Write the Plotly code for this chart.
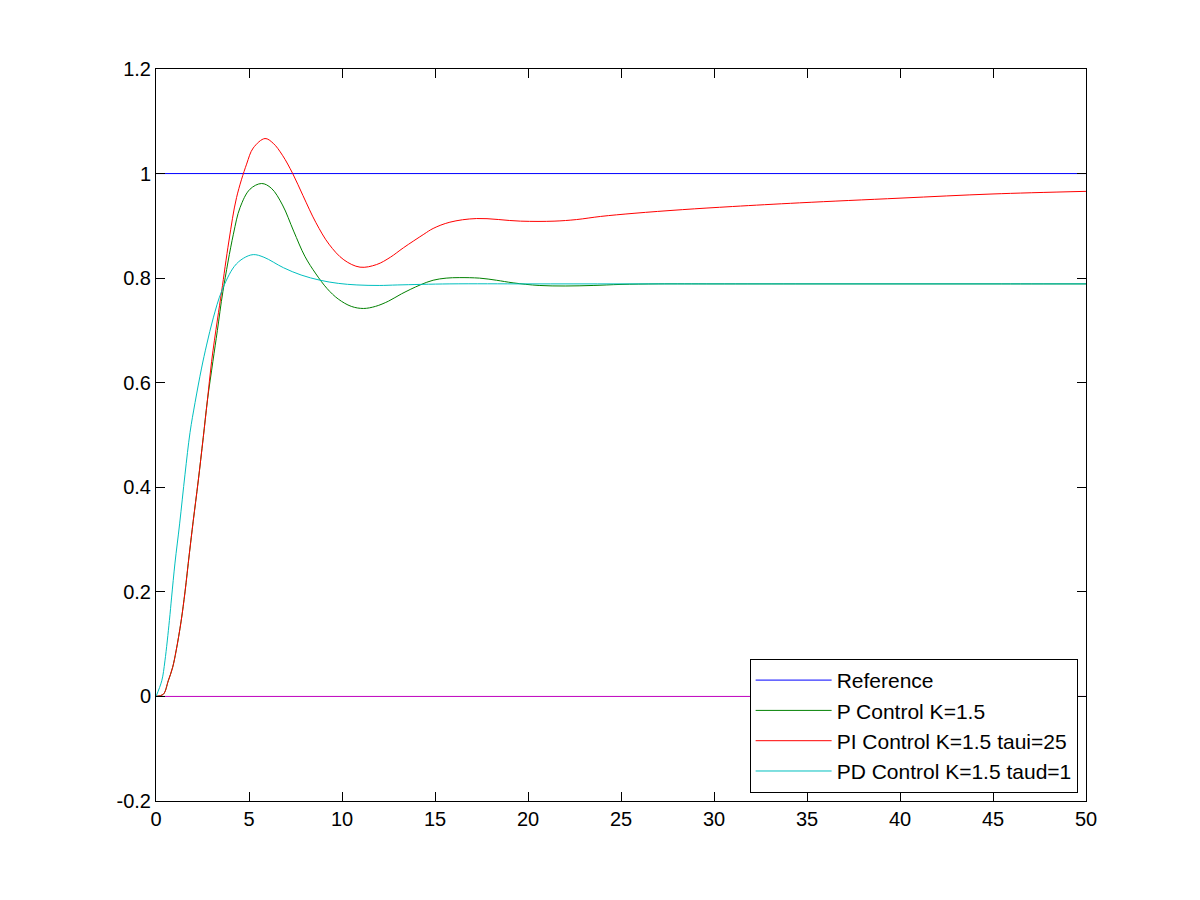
import plotly.graph_objects as go

# time axis / responses
t_ref = [0, 50]
y_ref = [1, 1]

t_zero = [0, 50]
y_zero = [0, 0]

t_p = [0, 0.39, 0.66, 0.89, 1.08, 1.35, 1.56, 1.79, 2.0, 2.27, 2.54, 2.76, 3.06, 3.3, 3.6,
       4.16, 4.52, 5.05, 5.68, 6.2, 6.8, 7.4, 8.0, 8.6, 9.2, 9.8, 10.5, 11.15, 11.8, 12.5,
       13.2, 14.2, 14.9, 15.6, 16.3, 17.4, 18.3, 19.2, 20.6, 22, 23.5, 25, 27, 30, 35, 40, 45, 50]
y_p = [0, 0.004, 0.03, 0.055, 0.087, 0.144, 0.2, 0.272, 0.335, 0.412, 0.495, 0.565, 0.641, 0.7, 0.775,
       0.884, 0.935, 0.97, 0.981, 0.972, 0.94, 0.89, 0.842, 0.808, 0.78, 0.76, 0.746, 0.742, 0.746, 0.756,
       0.77, 0.787, 0.796, 0.8, 0.801, 0.8, 0.796, 0.791, 0.786, 0.785, 0.786, 0.788, 0.789, 0.789,
       0.789, 0.789, 0.789, 0.789]

t_pi = [0, 0.39, 0.66, 0.89, 1.08, 1.35, 1.56, 1.79, 2.0, 2.27, 2.54, 2.76, 2.99, 3.3, 3.53,
        3.92, 4.33, 4.87, 5.23, 5.86, 6.3, 6.8, 7.35, 7.9, 8.6, 9.3, 10.1, 10.97, 11.86, 12.6,
        13.3, 14.4, 14.9, 15.8, 17.24, 19.6, 21.4, 22.6, 23.9, 25.7, 28.3, 31.0, 34.6, 40, 45, 50]
y_pi = [0, 0.004, 0.03, 0.055, 0.087, 0.144, 0.2, 0.272, 0.335, 0.412, 0.495, 0.565, 0.641, 0.72, 0.775,
        0.871, 0.954, 1.018, 1.049, 1.067, 1.058, 1.035, 1.0, 0.958, 0.906, 0.865, 0.835, 0.821, 0.826, 0.84,
        0.858, 0.884, 0.895, 0.907, 0.914, 0.909, 0.909, 0.912, 0.918, 0.924, 0.931, 0.937, 0.944,
        0.953, 0.961, 0.966]

t_pd = [0, 0.31, 0.48, 0.72, 0.84, 1.02, 1.27, 1.56, 1.83, 2.1, 2.45, 2.72, 3.08, 3.53,
        4.2, 4.7, 5.23, 5.8, 6.85, 7.8, 8.82, 9.8, 10.8, 12, 13, 15.8, 20, 25, 30, 35, 40, 45, 50]
y_pd = [0, 0.03, 0.068, 0.145, 0.19, 0.255, 0.33, 0.425, 0.505, 0.562, 0.628, 0.672, 0.724, 0.775,
        0.822, 0.838, 0.845, 0.84, 0.82, 0.806, 0.796, 0.79, 0.787, 0.786, 0.787, 0.789, 0.789,
        0.789, 0.789, 0.789, 0.789, 0.789, 0.789]

x_ticks = [0, 5, 10, 15, 20, 25, 30, 35, 40, 45, 50]
y_ticks = [-0.2, 0, 0.2, 0.4, 0.6, 0.8, 1, 1.2]
y_ticktext = ["-0.2", "0", "0.2", "0.4", "0.6", "0.8", "1", "1.2"]

fig = go.Figure()
fig.add_trace(go.Scatter(x=t_ref, y=y_ref, mode="lines", name="Reference",
                         line=dict(color="#0000FF", width=1)))
fig.add_trace(go.Scatter(x=t_p, y=y_p, mode="lines", name="P Control K=1.5",
                         line=dict(color="#008000", width=1, shape="spline")))
fig.add_trace(go.Scatter(x=t_pi, y=y_pi, mode="lines", name="PI Control K=1.5 taui=25",
                         line=dict(color="#FF0000", width=1, shape="spline")))
fig.add_trace(go.Scatter(x=t_pd, y=y_pd, mode="lines", name="PD Control K=1.5 taud=1",
                         line=dict(color="#00BFBF", width=1, shape="spline")))
fig.add_trace(go.Scatter(x=t_zero, y=y_zero, mode="lines", showlegend=False,
                         line=dict(color="#BF00BF", width=1)))

axis_style = dict(showline=True, linecolor="black", linewidth=1, mirror="ticks",
                  ticks="inside", ticklen=9, tickcolor="black", showgrid=False,
                  zeroline=False)

fig.update_xaxes(range=[0, 50], tickvals=x_ticks, **axis_style)
fig.update_yaxes(range=[-0.2, 1.2], tickvals=y_ticks, ticktext=y_ticktext, **axis_style)

fig.update_layout(
    width=1200, height=900,
    margin=dict(l=148, r=122, t=61, b=107),
    paper_bgcolor="white", plot_bgcolor="white",
    font=dict(family="Liberation Sans, Arial, sans-serif", size=20, color="black"),
    legend=dict(x=0.991, y=0.011, xanchor="right", yanchor="bottom",
                bgcolor="white", bordercolor="black", borderwidth=1,
                font=dict(size=21), itemwidth=76, tracegroupgap=0),
)

fig.write_html("out.html")
